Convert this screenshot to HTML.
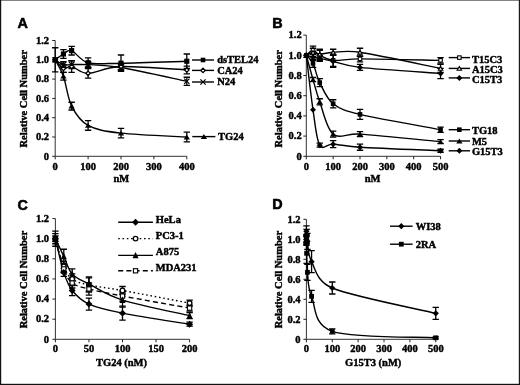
<!DOCTYPE html>
<html><head><meta charset="utf-8"><title>Figure</title>
<style>html,body{margin:0;padding:0;background:#fff;}body{width:520px;height:385px;position:relative;overflow:hidden;}</style>
</head><body>
<svg width="520" height="385" viewBox="0 0 520 385" style="position:absolute;left:0;top:0">
<rect x="0" y="0" width="520" height="385" fill="#fff"/>
<rect x="0" y="0" width="520" height="0.8" fill="#666"/>
<rect x="0" y="0" width="1.2" height="385" fill="#111"/>
<rect x="518.8" y="0" width="1.2" height="385" fill="#1a1a1a"/>
<rect x="0" y="383.8" width="520" height="1.2" fill="#111"/>
<g>
<text transform="translate(17.5,27.5) scale(1.0,1.03)" font-family='"Liberation Sans", "DejaVu Sans", sans-serif' font-weight="bold" font-size="14.4px" fill="#000" stroke="#000" stroke-width="0.55" stroke-linejoin="round">A</text>
<path d="M55.20,40.50 V156.30 H186.80" fill="none" stroke="#333" stroke-width="1"/>
<path d="M52.20,156.30 H55.20" stroke="#222" stroke-width="1"/>
<text x="49" y="159.60" text-anchor="end" font-family='"Liberation Serif", "DejaVu Serif", serif' font-weight="bold" font-size="10.5px" stroke="#000" stroke-width="0.42">0</text>
<path d="M52.20,137.00 H55.20" stroke="#222" stroke-width="1"/>
<text x="49" y="140.30" text-anchor="end" font-family='"Liberation Serif", "DejaVu Serif", serif' font-weight="bold" font-size="10.5px" stroke="#000" stroke-width="0.42">0.2</text>
<path d="M52.20,117.70 H55.20" stroke="#222" stroke-width="1"/>
<text x="49" y="121.00" text-anchor="end" font-family='"Liberation Serif", "DejaVu Serif", serif' font-weight="bold" font-size="10.5px" stroke="#000" stroke-width="0.42">0.4</text>
<path d="M52.20,98.40 H55.20" stroke="#222" stroke-width="1"/>
<text x="49" y="101.70" text-anchor="end" font-family='"Liberation Serif", "DejaVu Serif", serif' font-weight="bold" font-size="10.5px" stroke="#000" stroke-width="0.42">0.6</text>
<path d="M52.20,79.10 H55.20" stroke="#222" stroke-width="1"/>
<text x="49" y="82.40" text-anchor="end" font-family='"Liberation Serif", "DejaVu Serif", serif' font-weight="bold" font-size="10.5px" stroke="#000" stroke-width="0.42">0.8</text>
<path d="M52.20,59.80 H55.20" stroke="#222" stroke-width="1"/>
<text x="49" y="63.10" text-anchor="end" font-family='"Liberation Serif", "DejaVu Serif", serif' font-weight="bold" font-size="10.5px" stroke="#000" stroke-width="0.42">1.0</text>
<path d="M52.20,40.50 H55.20" stroke="#222" stroke-width="1"/>
<text x="49" y="43.80" text-anchor="end" font-family='"Liberation Serif", "DejaVu Serif", serif' font-weight="bold" font-size="10.5px" stroke="#000" stroke-width="0.42">1.2</text>
<path d="M55.20,156.30 V159.30" stroke="#222" stroke-width="1"/>
<text x="55.20" y="169.7" text-anchor="middle" font-family='"Liberation Serif", "DejaVu Serif", serif' font-weight="bold" font-size="10.5px" stroke="#000" stroke-width="0.42">0</text>
<path d="M88.10,156.30 V159.30" stroke="#222" stroke-width="1"/>
<text x="88.10" y="169.7" text-anchor="middle" font-family='"Liberation Serif", "DejaVu Serif", serif' font-weight="bold" font-size="10.5px" stroke="#000" stroke-width="0.42">100</text>
<path d="M121.00,156.30 V159.30" stroke="#222" stroke-width="1"/>
<text x="121.00" y="169.7" text-anchor="middle" font-family='"Liberation Serif", "DejaVu Serif", serif' font-weight="bold" font-size="10.5px" stroke="#000" stroke-width="0.42">200</text>
<path d="M153.90,156.30 V159.30" stroke="#222" stroke-width="1"/>
<text x="153.90" y="169.7" text-anchor="middle" font-family='"Liberation Serif", "DejaVu Serif", serif' font-weight="bold" font-size="10.5px" stroke="#000" stroke-width="0.42">300</text>
<path d="M186.80,156.30 V159.30" stroke="#222" stroke-width="1"/>
<text x="186.80" y="169.7" text-anchor="middle" font-family='"Liberation Serif", "DejaVu Serif", serif' font-weight="bold" font-size="10.5px" stroke="#000" stroke-width="0.42">400</text>
<text x="121.3" y="181.8" text-anchor="middle" font-family='"Liberation Serif", "DejaVu Serif", serif' font-weight="bold" font-size="10.5px" stroke="#000" stroke-width="0.42">nM</text>
<text transform="translate(26.8,98.8) rotate(-90)" text-anchor="middle" font-family='"Liberation Serif", "DejaVu Serif", serif' font-weight="bold" font-size="10.5px" stroke="#000" stroke-width="0.42">Relative Cell Number</text>
<path d="M55.20,59.80 C56.57,58.84 60.68,55.54 63.43,54.01 C66.17,52.48 67.54,49.19 71.65,50.63 C75.76,52.08 79.88,60.60 88.10,62.70 C96.32,64.79 104.55,63.42 121.00,63.18 C137.45,62.94 175.83,61.57 186.80,61.25" fill="none" stroke="#000" stroke-width="1.4"/>
<path d="M55.20,59.80 C56.57,61.25 60.68,67.36 63.43,68.49 C66.17,69.61 67.54,65.75 71.65,66.56 C75.76,67.36 79.88,73.31 88.10,73.31 C96.32,73.31 104.55,67.12 121.00,66.56 C137.45,65.99 175.83,69.37 186.80,69.93" fill="none" stroke="#000" stroke-width="1.4"/>
<path d="M55.20,59.80 C56.57,60.60 60.68,63.82 63.43,64.63 C66.17,65.43 67.54,64.63 71.65,64.63 C75.76,64.63 79.89,64.14 88.10,64.63 C96.32,65.11 104.72,64.77 121.00,67.52 C137.45,70.30 175.83,79.02 186.80,81.32" fill="none" stroke="#000" stroke-width="1.4"/>
<path d="M55.20,59.80 C56.57,62.53 60.68,68.49 63.43,76.21 C66.17,83.93 67.54,97.92 71.65,106.12 C75.76,114.32 79.88,120.92 88.10,125.42 C96.32,129.92 104.55,131.21 121.00,133.14 C137.45,135.07 175.83,136.36 186.80,137.00" fill="none" stroke="#000" stroke-width="1.4"/>
<path d="M55.20,47.74 V71.86 M52.00,47.74 H58.40 M52.00,71.86 H58.40" stroke="#000" stroke-width="1.3" fill="none"/>
<path d="M63.43,49.67 V58.35 M60.23,49.67 H66.62 M60.23,58.35 H66.62" stroke="#000" stroke-width="1.3" fill="none"/>
<path d="M71.65,46.29 V54.98 M68.45,46.29 H74.85 M68.45,54.98 H74.85" stroke="#000" stroke-width="1.3" fill="none"/>
<path d="M88.10,57.87 V67.52 M84.90,57.87 H91.30 M84.90,67.52 H91.30" stroke="#000" stroke-width="1.3" fill="none"/>
<path d="M121.00,54.98 V71.38 M117.80,54.98 H124.20 M117.80,71.38 H124.20" stroke="#000" stroke-width="1.3" fill="none"/>
<path d="M186.80,54.01 V68.49 M183.60,54.01 H190.00 M183.60,68.49 H190.00" stroke="#000" stroke-width="1.3" fill="none"/>
<path d="M63.43,64.62 V72.35 M60.23,64.62 H66.62 M60.23,72.35 H66.62" stroke="#000" stroke-width="1.3" fill="none"/>
<path d="M71.65,60.77 V72.34 M68.45,60.77 H74.85 M68.45,72.34 H74.85" stroke="#000" stroke-width="1.3" fill="none"/>
<path d="M88.10,68.49 V78.14 M84.90,68.49 H91.30 M84.90,78.14 H91.30" stroke="#000" stroke-width="1.3" fill="none"/>
<path d="M121.00,63.66 V69.45 M117.80,63.66 H124.20 M117.80,69.45 H124.20" stroke="#000" stroke-width="1.3" fill="none"/>
<path d="M186.80,66.07 V73.79 M183.60,66.07 H190.00 M183.60,73.79 H190.00" stroke="#000" stroke-width="1.3" fill="none"/>
<path d="M63.43,61.73 V67.52 M60.23,61.73 H66.62 M60.23,67.52 H66.62" stroke="#000" stroke-width="1.3" fill="none"/>
<path d="M71.65,60.77 V68.49 M68.45,60.77 H74.85 M68.45,68.49 H74.85" stroke="#000" stroke-width="1.3" fill="none"/>
<path d="M88.10,61.73 V67.52 M84.90,61.73 H91.30 M84.90,67.52 H91.30" stroke="#000" stroke-width="1.3" fill="none"/>
<path d="M121.00,64.62 V70.42 M117.80,64.62 H124.20 M117.80,70.42 H124.20" stroke="#000" stroke-width="1.3" fill="none"/>
<path d="M186.80,77.27 V85.37 M183.60,77.27 H190.00 M183.60,85.37 H190.00" stroke="#000" stroke-width="1.3" fill="none"/>
<path d="M63.43,72.35 V80.07 M60.23,72.35 H66.62 M60.23,80.07 H66.62" stroke="#000" stroke-width="1.3" fill="none"/>
<path d="M71.65,102.26 V109.98 M68.45,102.26 H74.85 M68.45,109.98 H74.85" stroke="#000" stroke-width="1.3" fill="none"/>
<path d="M88.10,120.60 V130.25 M84.90,120.60 H91.30 M84.90,130.25 H91.30" stroke="#000" stroke-width="1.3" fill="none"/>
<path d="M121.00,128.31 V137.97 M117.80,128.31 H124.20 M117.80,137.97 H124.20" stroke="#000" stroke-width="1.3" fill="none"/>
<path d="M186.80,132.18 V141.83 M183.60,132.18 H190.00 M183.60,141.83 H190.00" stroke="#000" stroke-width="1.3" fill="none"/>
<polygon points="55.20,57.30 58.33,62.18 52.08,62.18" fill="#000"/>
<polygon points="63.43,73.71 66.55,78.58 60.30,78.58" fill="#000"/>
<polygon points="71.65,103.62 74.78,108.50 68.53,108.50" fill="#000"/>
<polygon points="88.10,122.92 91.22,127.80 84.97,127.80" fill="#000"/>
<polygon points="121.00,130.64 124.12,135.52 117.88,135.52" fill="#000"/>
<polygon points="186.80,134.50 189.93,139.38 183.68,139.38" fill="#000"/>
<path d="M52.58,57.18 L57.83,62.43 M52.58,62.43 L57.83,57.18" stroke="#000" stroke-width="1.2" fill="none"/>
<path d="M60.80,62.00 L66.05,67.25 M60.80,67.25 L66.05,62.00" stroke="#000" stroke-width="1.2" fill="none"/>
<path d="M69.03,62.00 L74.28,67.25 M69.03,67.25 L74.28,62.00" stroke="#000" stroke-width="1.2" fill="none"/>
<path d="M85.47,62.00 L90.72,67.25 M85.47,67.25 L90.72,62.00" stroke="#000" stroke-width="1.2" fill="none"/>
<path d="M118.38,64.90 L123.62,70.15 M118.38,70.15 L123.62,64.90" stroke="#000" stroke-width="1.2" fill="none"/>
<path d="M184.18,78.69 L189.43,83.94 M184.18,83.94 L189.43,78.69" stroke="#000" stroke-width="1.2" fill="none"/>
<polygon points="55.20,57.60 57.40,59.80 55.20,62.00 53.00,59.80" fill="#fff" stroke="#000" stroke-width="1.3"/>
<polygon points="63.43,66.29 65.62,68.49 63.43,70.69 61.23,68.49" fill="#fff" stroke="#000" stroke-width="1.3"/>
<polygon points="71.65,64.36 73.85,66.56 71.65,68.76 69.45,66.56" fill="#fff" stroke="#000" stroke-width="1.3"/>
<polygon points="88.10,71.11 90.30,73.31 88.10,75.51 85.90,73.31" fill="#fff" stroke="#000" stroke-width="1.3"/>
<polygon points="121.00,64.36 123.20,66.56 121.00,68.76 118.80,66.56" fill="#fff" stroke="#000" stroke-width="1.3"/>
<polygon points="186.80,67.73 189.00,69.93 186.80,72.13 184.60,69.93" fill="#fff" stroke="#000" stroke-width="1.3"/>
<rect x="52.62" y="57.22" width="5.15" height="5.15" fill="#000"/>
<rect x="60.85" y="51.43" width="5.15" height="5.15" fill="#000"/>
<rect x="69.07" y="48.06" width="5.15" height="5.15" fill="#000"/>
<rect x="85.52" y="60.12" width="5.15" height="5.15" fill="#000"/>
<rect x="118.42" y="60.60" width="5.15" height="5.15" fill="#000"/>
<rect x="184.22" y="58.67" width="5.15" height="5.15" fill="#000"/>
<path d="M192,60.0 H214" stroke="#000" stroke-width="1.4"/>
<rect x="200.70" y="57.70" width="4.60" height="4.60" fill="#000"/>
<text x="217.2" y="63.20" font-family='"Liberation Serif", "DejaVu Serif", serif' font-weight="bold" font-size="10.5px" stroke="#000" stroke-width="0.42">dsTEL24</text>
<path d="M192,70.4 H214" stroke="#000" stroke-width="1.4"/>
<polygon points="203.00,68.20 205.20,70.40 203.00,72.60 200.80,70.40" fill="#fff" stroke="#000" stroke-width="1.3"/>
<text x="217.2" y="73.70" font-family='"Liberation Serif", "DejaVu Serif", serif' font-weight="bold" font-size="10.5px" stroke="#000" stroke-width="0.42">CA24</text>
<path d="M192,82 H214" stroke="#000" stroke-width="1.4"/>
<path d="M200.38,79.38 L205.62,84.62 M200.38,84.62 L205.62,79.38" stroke="#000" stroke-width="1.2" fill="none"/>
<text x="217.2" y="85.40" font-family='"Liberation Serif", "DejaVu Serif", serif' font-weight="bold" font-size="10.5px" stroke="#000" stroke-width="0.42">N24</text>
<path d="M192.3,136.6 H215.4" stroke="#000" stroke-width="1.4"/>
<polygon points="203.85,134.10 206.98,138.97 200.73,138.97" fill="#000"/>
<text x="218" y="139.90" font-family='"Liberation Serif", "DejaVu Serif", serif' font-weight="bold" font-size="10.5px" stroke="#000" stroke-width="0.42">TG24</text>
</g>
<g>
<text transform="translate(272.2,27.5) scale(1.0,1.03)" font-family='"Liberation Sans", "DejaVu Sans", sans-serif' font-weight="bold" font-size="14.4px" fill="#000" stroke="#000" stroke-width="0.55" stroke-linejoin="round">B</text>
<path d="M306.30,35.10 V156.30 H440.55" fill="none" stroke="#333" stroke-width="1"/>
<path d="M303.30,156.30 H306.30" stroke="#222" stroke-width="1"/>
<text x="301.7" y="159.60" text-anchor="end" font-family='"Liberation Serif", "DejaVu Serif", serif' font-weight="bold" font-size="10.5px" stroke="#000" stroke-width="0.42">0</text>
<path d="M303.30,136.10 H306.30" stroke="#222" stroke-width="1"/>
<text x="301.7" y="139.40" text-anchor="end" font-family='"Liberation Serif", "DejaVu Serif", serif' font-weight="bold" font-size="10.5px" stroke="#000" stroke-width="0.42">0.2</text>
<path d="M303.30,115.90 H306.30" stroke="#222" stroke-width="1"/>
<text x="301.7" y="119.20" text-anchor="end" font-family='"Liberation Serif", "DejaVu Serif", serif' font-weight="bold" font-size="10.5px" stroke="#000" stroke-width="0.42">0.4</text>
<path d="M303.30,95.70 H306.30" stroke="#222" stroke-width="1"/>
<text x="301.7" y="99.00" text-anchor="end" font-family='"Liberation Serif", "DejaVu Serif", serif' font-weight="bold" font-size="10.5px" stroke="#000" stroke-width="0.42">0.6</text>
<path d="M303.30,75.50 H306.30" stroke="#222" stroke-width="1"/>
<text x="301.7" y="78.80" text-anchor="end" font-family='"Liberation Serif", "DejaVu Serif", serif' font-weight="bold" font-size="10.5px" stroke="#000" stroke-width="0.42">0.8</text>
<path d="M303.30,55.30 H306.30" stroke="#222" stroke-width="1"/>
<text x="301.7" y="58.60" text-anchor="end" font-family='"Liberation Serif", "DejaVu Serif", serif' font-weight="bold" font-size="10.5px" stroke="#000" stroke-width="0.42">1.0</text>
<path d="M303.30,35.10 H306.30" stroke="#222" stroke-width="1"/>
<text x="301.7" y="38.40" text-anchor="end" font-family='"Liberation Serif", "DejaVu Serif", serif' font-weight="bold" font-size="10.5px" stroke="#000" stroke-width="0.42">1.2</text>
<path d="M306.30,156.30 V159.30" stroke="#222" stroke-width="1"/>
<text x="306.30" y="169.7" text-anchor="middle" font-family='"Liberation Serif", "DejaVu Serif", serif' font-weight="bold" font-size="10.5px" stroke="#000" stroke-width="0.42">0</text>
<path d="M333.15,156.30 V159.30" stroke="#222" stroke-width="1"/>
<text x="333.15" y="169.7" text-anchor="middle" font-family='"Liberation Serif", "DejaVu Serif", serif' font-weight="bold" font-size="10.5px" stroke="#000" stroke-width="0.42">100</text>
<path d="M360.00,156.30 V159.30" stroke="#222" stroke-width="1"/>
<text x="360.00" y="169.7" text-anchor="middle" font-family='"Liberation Serif", "DejaVu Serif", serif' font-weight="bold" font-size="10.5px" stroke="#000" stroke-width="0.42">200</text>
<path d="M386.85,156.30 V159.30" stroke="#222" stroke-width="1"/>
<text x="386.85" y="169.7" text-anchor="middle" font-family='"Liberation Serif", "DejaVu Serif", serif' font-weight="bold" font-size="10.5px" stroke="#000" stroke-width="0.42">300</text>
<path d="M413.70,156.30 V159.30" stroke="#222" stroke-width="1"/>
<text x="413.70" y="169.7" text-anchor="middle" font-family='"Liberation Serif", "DejaVu Serif", serif' font-weight="bold" font-size="10.5px" stroke="#000" stroke-width="0.42">400</text>
<path d="M440.55,156.30 V159.30" stroke="#222" stroke-width="1"/>
<text x="440.55" y="169.7" text-anchor="middle" font-family='"Liberation Serif", "DejaVu Serif", serif' font-weight="bold" font-size="10.5px" stroke="#000" stroke-width="0.42">500</text>
<text x="372.5" y="181.8" text-anchor="middle" font-family='"Liberation Serif", "DejaVu Serif", serif' font-weight="bold" font-size="10.5px" stroke="#000" stroke-width="0.42">nM</text>
<text transform="translate(281.5,98.8) rotate(-90)" text-anchor="middle" font-family='"Liberation Serif", "DejaVu Serif", serif' font-weight="bold" font-size="10.5px" stroke="#000" stroke-width="0.42">Relative Cell Number</text>
<path d="M306.30,55.30 C307.42,54.46 310.77,50.25 313.01,50.25 C315.25,50.25 316.37,53.62 319.73,55.30 C323.08,56.98 326.44,59.76 333.15,60.35 C339.86,60.94 346.55,58.84 360.00,58.84 C377.90,58.84 427.12,60.10 440.55,60.35" fill="none" stroke="#000" stroke-width="1.4"/>
<path d="M306.30,55.30 C307.42,54.80 310.77,52.44 313.01,52.27 C315.25,52.10 316.37,54.29 319.73,54.29 C323.08,54.29 326.44,52.61 333.15,52.27 C339.86,51.93 346.72,50.27 360.00,52.27 C377.90,54.96 427.12,65.74 440.55,68.43" fill="none" stroke="#000" stroke-width="1.4"/>
<path d="M306.30,55.30 C307.42,55.64 310.77,56.82 313.01,57.32 C315.25,57.83 316.40,57.66 319.73,58.33 C323.08,59.00 326.44,59.85 333.15,61.36 C339.86,62.88 346.32,65.88 360.00,67.42 C377.90,69.44 427.12,72.47 440.55,73.48" fill="none" stroke="#000" stroke-width="1.4"/>
<path d="M306.30,55.30 C307.42,59.34 310.77,71.80 313.01,79.54 C315.25,87.28 316.37,92.67 319.73,101.76 C323.08,110.85 326.44,128.69 333.15,134.08 C339.86,139.47 346.61,133.14 360.00,134.08 C377.90,135.34 427.12,140.39 440.55,141.66" fill="none" stroke="#000" stroke-width="1.4"/>
<path d="M306.30,55.30 C307.42,64.39 310.77,94.86 313.01,109.84 C315.25,124.82 316.37,139.47 319.73,145.19 C323.08,150.91 326.44,143.84 333.15,144.18 C339.86,144.52 346.51,146.39 360.00,147.21 C377.90,148.30 427.12,150.16 440.55,150.75" fill="none" stroke="#000" stroke-width="1.4"/>
<path d="M306.30,55.30 C307.42,56.65 310.77,58.84 313.01,63.38 C315.25,67.93 316.37,75.84 319.73,82.57 C323.08,89.30 326.44,98.48 333.15,103.78 C339.86,109.08 345.97,110.99 360.00,114.39 C377.90,118.71 427.12,127.18 440.55,129.74" fill="none" stroke="#000" stroke-width="1.4"/>
<path d="M313.01,46.21 V54.29 M309.81,46.21 H316.21 M309.81,54.29 H316.21" stroke="#000" stroke-width="1.3" fill="none"/>
<path d="M319.73,50.25 V60.35 M316.53,50.25 H322.93 M316.53,60.35 H322.93" stroke="#000" stroke-width="1.3" fill="none"/>
<path d="M333.15,54.29 V66.41 M329.95,54.29 H336.35 M329.95,66.41 H336.35" stroke="#000" stroke-width="1.3" fill="none"/>
<path d="M360.00,55.81 V61.87 M356.80,55.81 H363.20 M356.80,61.87 H363.20" stroke="#000" stroke-width="1.3" fill="none"/>
<path d="M440.55,57.62 V63.08 M437.35,57.62 H443.75 M437.35,63.08 H443.75" stroke="#000" stroke-width="1.3" fill="none"/>
<path d="M313.01,48.23 V56.31 M309.81,48.23 H316.21 M309.81,56.31 H316.21" stroke="#000" stroke-width="1.3" fill="none"/>
<path d="M319.73,49.24 V59.34 M316.53,49.24 H322.93 M316.53,59.34 H322.93" stroke="#000" stroke-width="1.3" fill="none"/>
<path d="M333.15,49.24 V55.30 M329.95,49.24 H336.35 M329.95,55.30 H336.35" stroke="#000" stroke-width="1.3" fill="none"/>
<path d="M360.00,48.23 V56.31 M356.80,48.23 H363.20 M356.80,56.31 H363.20" stroke="#000" stroke-width="1.3" fill="none"/>
<path d="M440.55,64.39 V72.47 M437.35,64.39 H443.75 M437.35,72.47 H443.75" stroke="#000" stroke-width="1.3" fill="none"/>
<path d="M313.01,54.29 V60.35 M309.81,54.29 H316.21 M309.81,60.35 H316.21" stroke="#000" stroke-width="1.3" fill="none"/>
<path d="M319.73,55.30 V61.36 M316.53,55.30 H322.93 M316.53,61.36 H322.93" stroke="#000" stroke-width="1.3" fill="none"/>
<path d="M333.15,55.30 V67.42 M329.95,55.30 H336.35 M329.95,67.42 H336.35" stroke="#000" stroke-width="1.3" fill="none"/>
<path d="M360.00,64.39 V70.45 M356.80,64.39 H363.20 M356.80,70.45 H363.20" stroke="#000" stroke-width="1.3" fill="none"/>
<path d="M440.55,68.43 V78.53 M437.35,68.43 H443.75 M437.35,78.53 H443.75" stroke="#000" stroke-width="1.3" fill="none"/>
<path d="M313.01,77.52 V81.56 M309.81,77.52 H316.21 M309.81,81.56 H316.21" stroke="#000" stroke-width="1.3" fill="none"/>
<path d="M319.73,98.73 V104.79 M316.53,98.73 H322.93 M316.53,104.79 H322.93" stroke="#000" stroke-width="1.3" fill="none"/>
<path d="M333.15,131.05 V137.11 M329.95,131.05 H336.35 M329.95,137.11 H336.35" stroke="#000" stroke-width="1.3" fill="none"/>
<path d="M360.00,131.56 V136.61 M356.80,131.56 H363.20 M356.80,136.61 H363.20" stroke="#000" stroke-width="1.3" fill="none"/>
<path d="M440.55,139.64 V143.68 M437.35,139.64 H443.75 M437.35,143.68 H443.75" stroke="#000" stroke-width="1.3" fill="none"/>
<path d="M319.73,143.17 V147.21 M316.53,143.17 H322.93 M316.53,147.21 H322.93" stroke="#000" stroke-width="1.3" fill="none"/>
<path d="M333.15,140.65 V147.72 M329.95,140.65 H336.35 M329.95,147.72 H336.35" stroke="#000" stroke-width="1.3" fill="none"/>
<path d="M360.00,144.18 V150.24 M356.80,144.18 H363.20 M356.80,150.24 H363.20" stroke="#000" stroke-width="1.3" fill="none"/>
<path d="M440.55,149.23 V152.26 M437.35,149.23 H443.75 M437.35,152.26 H443.75" stroke="#000" stroke-width="1.3" fill="none"/>
<path d="M313.01,59.34 V67.42 M309.81,59.34 H316.21 M309.81,67.42 H316.21" stroke="#000" stroke-width="1.3" fill="none"/>
<path d="M319.73,78.53 V86.61 M316.53,78.53 H322.93 M316.53,86.61 H322.93" stroke="#000" stroke-width="1.3" fill="none"/>
<path d="M333.15,99.74 V107.82 M329.95,99.74 H336.35 M329.95,107.82 H336.35" stroke="#000" stroke-width="1.3" fill="none"/>
<path d="M360.00,109.34 V119.44 M356.80,109.34 H363.20 M356.80,119.44 H363.20" stroke="#000" stroke-width="1.3" fill="none"/>
<path d="M440.55,127.11 V132.36 M437.35,127.11 H443.75 M437.35,132.36 H443.75" stroke="#000" stroke-width="1.3" fill="none"/>
<rect x="304.55" y="53.55" width="3.50" height="3.50" fill="#fff" stroke="#000" stroke-width="1.1"/>
<rect x="311.26" y="48.50" width="3.50" height="3.50" fill="#fff" stroke="#000" stroke-width="1.1"/>
<rect x="317.98" y="53.55" width="3.50" height="3.50" fill="#fff" stroke="#000" stroke-width="1.1"/>
<rect x="331.40" y="58.60" width="3.50" height="3.50" fill="#fff" stroke="#000" stroke-width="1.1"/>
<rect x="358.25" y="57.09" width="3.50" height="3.50" fill="#fff" stroke="#000" stroke-width="1.1"/>
<rect x="438.80" y="58.60" width="3.50" height="3.50" fill="#fff" stroke="#000" stroke-width="1.1"/>
<polygon points="306.30,53.50 308.53,57.18 304.07,57.18" fill="#fff" stroke="#000" stroke-width="1.1"/>
<polygon points="313.01,50.47 315.24,54.15 310.79,54.15" fill="#fff" stroke="#000" stroke-width="1.1"/>
<polygon points="319.73,52.49 321.95,56.17 317.50,56.17" fill="#fff" stroke="#000" stroke-width="1.1"/>
<polygon points="333.15,50.47 335.38,54.15 330.93,54.15" fill="#fff" stroke="#000" stroke-width="1.1"/>
<polygon points="360.00,50.47 362.23,54.15 357.77,54.15" fill="#fff" stroke="#000" stroke-width="1.1"/>
<polygon points="440.55,66.63 442.78,70.31 438.32,70.31" fill="#fff" stroke="#000" stroke-width="1.1"/>
<polygon points="306.30,52.30 309.30,55.30 306.30,58.30 303.30,55.30" fill="#000"/>
<polygon points="313.01,54.32 316.01,57.32 313.01,60.32 310.01,57.32" fill="#000"/>
<polygon points="319.73,55.33 322.73,58.33 319.73,61.33 316.73,58.33" fill="#000"/>
<polygon points="333.15,58.36 336.15,61.36 333.15,64.36 330.15,61.36" fill="#000"/>
<polygon points="360.00,64.42 363.00,67.42 360.00,70.42 357.00,67.42" fill="#000"/>
<polygon points="440.55,70.48 443.55,73.48 440.55,76.48 437.55,73.48" fill="#000"/>
<polygon points="306.30,52.80 309.43,57.68 303.18,57.68" fill="#000"/>
<polygon points="313.01,77.04 316.14,81.92 309.89,81.92" fill="#000"/>
<polygon points="319.73,99.26 322.85,104.14 316.60,104.14" fill="#000"/>
<polygon points="333.15,131.58 336.28,136.46 330.03,136.46" fill="#000"/>
<polygon points="360.00,131.58 363.12,136.46 356.88,136.46" fill="#000"/>
<polygon points="440.55,139.16 443.68,144.03 437.43,144.03" fill="#000"/>
<polygon points="306.30,52.30 309.30,55.30 306.30,58.30 303.30,55.30" fill="#000"/>
<polygon points="313.01,106.84 316.01,109.84 313.01,112.84 310.01,109.84" fill="#000"/>
<polygon points="319.73,142.19 322.73,145.19 319.73,148.19 316.73,145.19" fill="#000"/>
<polygon points="333.15,141.18 336.15,144.18 333.15,147.18 330.15,144.18" fill="#000"/>
<polygon points="360.00,144.21 363.00,147.21 360.00,150.21 357.00,147.21" fill="#000"/>
<polygon points="440.55,147.75 443.55,150.75 440.55,153.75 437.55,150.75" fill="#000"/>
<rect x="304.00" y="53.00" width="4.60" height="4.60" fill="#000"/>
<rect x="310.71" y="61.08" width="4.60" height="4.60" fill="#000"/>
<rect x="317.43" y="80.27" width="4.60" height="4.60" fill="#000"/>
<rect x="330.85" y="101.48" width="4.60" height="4.60" fill="#000"/>
<rect x="357.70" y="112.09" width="4.60" height="4.60" fill="#000"/>
<rect x="438.25" y="127.44" width="4.60" height="4.60" fill="#000"/>
<path d="M448.7,57.6 H470" stroke="#000" stroke-width="1.4"/>
<rect x="457.60" y="55.85" width="3.50" height="3.50" fill="#fff" stroke="#000" stroke-width="1.1"/>
<text x="471.9" y="62.80" font-family='"Liberation Serif", "DejaVu Serif", serif' font-weight="bold" font-size="10.5px" stroke="#000" stroke-width="0.42">T15C3</text>
<path d="M448.7,68.4 H470" stroke="#000" stroke-width="1.4"/>
<polygon points="459.35,66.60 461.58,70.28 457.12,70.28" fill="#fff" stroke="#000" stroke-width="1.1"/>
<text x="471.9" y="73.00" font-family='"Liberation Serif", "DejaVu Serif", serif' font-weight="bold" font-size="10.5px" stroke="#000" stroke-width="0.42">A15C3</text>
<path d="M448.7,77.9 H470" stroke="#000" stroke-width="1.4"/>
<polygon points="459.35,74.90 462.35,77.90 459.35,80.90 456.35,77.90" fill="#000"/>
<text x="471.9" y="82.50" font-family='"Liberation Serif", "DejaVu Serif", serif' font-weight="bold" font-size="10.5px" stroke="#000" stroke-width="0.42">C15T3</text>
<path d="M448.7,129.7 H470" stroke="#000" stroke-width="1.4"/>
<rect x="457.05" y="127.40" width="4.60" height="4.60" fill="#000"/>
<text x="471.9" y="134.40" font-family='"Liberation Serif", "DejaVu Serif", serif' font-weight="bold" font-size="10.5px" stroke="#000" stroke-width="0.42">TG18</text>
<path d="M448.7,141 H470" stroke="#000" stroke-width="1.4"/>
<polygon points="459.35,138.50 462.48,143.38 456.23,143.38" fill="#000"/>
<text x="471.9" y="144.80" font-family='"Liberation Serif", "DejaVu Serif", serif' font-weight="bold" font-size="10.5px" stroke="#000" stroke-width="0.42">M5</text>
<path d="M448.7,150.8 H470" stroke="#000" stroke-width="1.4"/>
<polygon points="459.35,147.80 462.35,150.80 459.35,153.80 456.35,150.80" fill="#000"/>
<text x="471.9" y="155.10" font-family='"Liberation Serif", "DejaVu Serif", serif' font-weight="bold" font-size="10.5px" stroke="#000" stroke-width="0.42">G15T3</text>
</g>
<g>
<text transform="translate(17.4,209.5) scale(1.0,1.03)" font-family='"Liberation Sans", "DejaVu Sans", sans-serif' font-weight="bold" font-size="14.4px" fill="#000" stroke="#000" stroke-width="0.55" stroke-linejoin="round">C</text>
<path d="M55.40,218.58 V339.30 H189.60" fill="none" stroke="#333" stroke-width="1"/>
<path d="M52.40,339.30 H55.40" stroke="#222" stroke-width="1"/>
<text x="49" y="342.60" text-anchor="end" font-family='"Liberation Serif", "DejaVu Serif", serif' font-weight="bold" font-size="10.5px" stroke="#000" stroke-width="0.42">0</text>
<path d="M52.40,319.18 H55.40" stroke="#222" stroke-width="1"/>
<text x="49" y="322.48" text-anchor="end" font-family='"Liberation Serif", "DejaVu Serif", serif' font-weight="bold" font-size="10.5px" stroke="#000" stroke-width="0.42">0.2</text>
<path d="M52.40,299.06 H55.40" stroke="#222" stroke-width="1"/>
<text x="49" y="302.36" text-anchor="end" font-family='"Liberation Serif", "DejaVu Serif", serif' font-weight="bold" font-size="10.5px" stroke="#000" stroke-width="0.42">0.4</text>
<path d="M52.40,278.94 H55.40" stroke="#222" stroke-width="1"/>
<text x="49" y="282.24" text-anchor="end" font-family='"Liberation Serif", "DejaVu Serif", serif' font-weight="bold" font-size="10.5px" stroke="#000" stroke-width="0.42">0.6</text>
<path d="M52.40,258.82 H55.40" stroke="#222" stroke-width="1"/>
<text x="49" y="262.12" text-anchor="end" font-family='"Liberation Serif", "DejaVu Serif", serif' font-weight="bold" font-size="10.5px" stroke="#000" stroke-width="0.42">0.8</text>
<path d="M52.40,238.70 H55.40" stroke="#222" stroke-width="1"/>
<text x="49" y="242.00" text-anchor="end" font-family='"Liberation Serif", "DejaVu Serif", serif' font-weight="bold" font-size="10.5px" stroke="#000" stroke-width="0.42">1.0</text>
<path d="M52.40,218.58 H55.40" stroke="#222" stroke-width="1"/>
<text x="49" y="221.88" text-anchor="end" font-family='"Liberation Serif", "DejaVu Serif", serif' font-weight="bold" font-size="10.5px" stroke="#000" stroke-width="0.42">1.2</text>
<path d="M55.40,339.30 V342.30" stroke="#222" stroke-width="1"/>
<text x="55.40" y="352.4" text-anchor="middle" font-family='"Liberation Serif", "DejaVu Serif", serif' font-weight="bold" font-size="10.5px" stroke="#000" stroke-width="0.42">0</text>
<path d="M88.95,339.30 V342.30" stroke="#222" stroke-width="1"/>
<text x="88.95" y="352.4" text-anchor="middle" font-family='"Liberation Serif", "DejaVu Serif", serif' font-weight="bold" font-size="10.5px" stroke="#000" stroke-width="0.42">50</text>
<path d="M122.50,339.30 V342.30" stroke="#222" stroke-width="1"/>
<text x="122.50" y="352.4" text-anchor="middle" font-family='"Liberation Serif", "DejaVu Serif", serif' font-weight="bold" font-size="10.5px" stroke="#000" stroke-width="0.42">100</text>
<path d="M156.05,339.30 V342.30" stroke="#222" stroke-width="1"/>
<text x="156.05" y="352.4" text-anchor="middle" font-family='"Liberation Serif", "DejaVu Serif", serif' font-weight="bold" font-size="10.5px" stroke="#000" stroke-width="0.42">150</text>
<path d="M189.60,339.30 V342.30" stroke="#222" stroke-width="1"/>
<text x="189.60" y="352.4" text-anchor="middle" font-family='"Liberation Serif", "DejaVu Serif", serif' font-weight="bold" font-size="10.5px" stroke="#000" stroke-width="0.42">200</text>
<text x="121.5" y="365.6" text-anchor="middle" font-family='"Liberation Serif", "DejaVu Serif", serif' font-weight="bold" font-size="10.5px" stroke="#000" stroke-width="0.42">TG24 (nM)</text>
<text transform="translate(26.6,279.6) rotate(-90)" text-anchor="middle" font-family='"Liberation Serif", "DejaVu Serif", serif' font-weight="bold" font-size="10.5px" stroke="#000" stroke-width="0.42">Relative Cell Number</text>
<path d="M55.40,238.70 C56.80,243.31 60.99,259.66 63.79,266.37 C66.58,273.07 67.98,275.84 72.17,278.94 C76.37,282.04 80.56,283.05 88.95,284.98 C97.34,286.90 105.77,287.50 122.50,290.51 C139.28,293.53 178.42,300.99 189.60,303.08" fill="none" stroke="#000" stroke-width="1.4" stroke-dasharray="1.6,2.7"/>
<path d="M55.40,238.70 C56.80,243.73 60.99,261.50 63.79,268.88 C66.58,276.26 67.98,279.61 72.17,282.96 C76.37,286.32 80.56,286.82 88.95,289.00 C97.34,291.18 105.72,292.86 122.50,296.04 C139.28,299.23 178.42,306.10 189.60,308.11" fill="none" stroke="#000" stroke-width="1.4" stroke-dasharray="5,3.2"/>
<path d="M55.40,238.70 C56.80,241.63 60.99,250.44 63.79,256.31 C66.58,262.17 67.98,269.30 72.17,273.91 C76.37,278.52 80.56,279.61 88.95,283.97 C97.34,288.33 105.72,294.78 122.50,300.07 C139.28,305.35 178.42,313.06 189.60,315.66" fill="none" stroke="#000" stroke-width="1.4"/>
<path d="M55.40,238.70 C56.80,244.32 60.99,263.77 63.79,272.40 C66.58,281.04 67.98,285.23 72.17,290.51 C76.37,295.79 80.56,300.32 88.95,304.09 C97.34,307.86 105.72,309.79 122.50,313.14 C139.28,316.50 178.42,322.37 189.60,324.21" fill="none" stroke="#000" stroke-width="1.4"/>
<path d="M55.40,233.67 V243.73 M52.20,233.67 H58.60 M52.20,243.73 H58.60" stroke="#000" stroke-width="1.3" fill="none"/>
<path d="M63.79,261.34 V271.40 M60.59,261.34 H66.99 M60.59,271.40 H66.99" stroke="#000" stroke-width="1.3" fill="none"/>
<path d="M72.17,273.91 V283.97 M68.97,273.91 H75.38 M68.97,283.97 H75.38" stroke="#000" stroke-width="1.3" fill="none"/>
<path d="M88.95,277.93 V292.02 M85.75,277.93 H92.15 M85.75,292.02 H92.15" stroke="#000" stroke-width="1.3" fill="none"/>
<path d="M122.50,286.49 V294.53 M119.30,286.49 H125.70 M119.30,294.53 H125.70" stroke="#000" stroke-width="1.3" fill="none"/>
<path d="M189.60,300.07 V306.10 M186.40,300.07 H192.80 M186.40,306.10 H192.80" stroke="#000" stroke-width="1.3" fill="none"/>
<path d="M63.79,264.86 V272.90 M60.59,264.86 H66.99 M60.59,272.90 H66.99" stroke="#000" stroke-width="1.3" fill="none"/>
<path d="M72.17,277.93 V287.99 M68.97,277.93 H75.38 M68.97,287.99 H75.38" stroke="#000" stroke-width="1.3" fill="none"/>
<path d="M88.95,282.96 V295.04 M85.75,282.96 H92.15 M85.75,295.04 H92.15" stroke="#000" stroke-width="1.3" fill="none"/>
<path d="M122.50,291.01 V301.07 M119.30,291.01 H125.70 M119.30,301.07 H125.70" stroke="#000" stroke-width="1.3" fill="none"/>
<path d="M189.60,305.10 V311.13 M186.40,305.10 H192.80 M186.40,311.13 H192.80" stroke="#000" stroke-width="1.3" fill="none"/>
<path d="M55.40,235.88 V241.52 M52.20,235.88 H58.60 M52.20,241.52 H58.60" stroke="#000" stroke-width="1.3" fill="none"/>
<path d="M63.79,249.26 V263.35 M60.59,249.26 H66.99 M60.59,263.35 H66.99" stroke="#000" stroke-width="1.3" fill="none"/>
<path d="M72.17,268.88 V278.94 M68.97,268.88 H75.38 M68.97,278.94 H75.38" stroke="#000" stroke-width="1.3" fill="none"/>
<path d="M88.95,276.93 V291.01 M85.75,276.93 H92.15 M85.75,291.01 H92.15" stroke="#000" stroke-width="1.3" fill="none"/>
<path d="M122.50,293.02 V307.11 M119.30,293.02 H125.70 M119.30,307.11 H125.70" stroke="#000" stroke-width="1.3" fill="none"/>
<path d="M189.60,312.64 V318.68 M186.40,312.64 H192.80 M186.40,318.68 H192.80" stroke="#000" stroke-width="1.3" fill="none"/>
<path d="M55.40,231.16 V246.25 M52.20,231.16 H58.60 M52.20,246.25 H58.60" stroke="#000" stroke-width="1.3" fill="none"/>
<path d="M63.79,268.38 V276.43 M60.59,268.38 H66.99 M60.59,276.43 H66.99" stroke="#000" stroke-width="1.3" fill="none"/>
<path d="M72.17,285.48 V295.54 M68.97,285.48 H75.38 M68.97,295.54 H75.38" stroke="#000" stroke-width="1.3" fill="none"/>
<path d="M88.95,298.05 V310.13 M85.75,298.05 H92.15 M85.75,310.13 H92.15" stroke="#000" stroke-width="1.3" fill="none"/>
<path d="M122.50,306.10 V320.19 M119.30,306.10 H125.70 M119.30,320.19 H125.70" stroke="#000" stroke-width="1.3" fill="none"/>
<path d="M189.60,322.20 V326.22 M186.40,322.20 H192.80 M186.40,326.22 H192.80" stroke="#000" stroke-width="1.3" fill="none"/>
<circle cx="55.40" cy="238.70" r="2.32" fill="#fff" stroke="#000" stroke-width="1.3"/>
<circle cx="63.79" cy="266.37" r="2.32" fill="#fff" stroke="#000" stroke-width="1.3"/>
<circle cx="72.17" cy="278.94" r="2.32" fill="#fff" stroke="#000" stroke-width="1.3"/>
<circle cx="88.95" cy="284.98" r="2.32" fill="#fff" stroke="#000" stroke-width="1.3"/>
<circle cx="122.50" cy="290.51" r="2.32" fill="#fff" stroke="#000" stroke-width="1.3"/>
<circle cx="189.60" cy="303.08" r="2.32" fill="#fff" stroke="#000" stroke-width="1.3"/>
<rect x="53.28" y="236.58" width="4.24" height="4.24" fill="#fff" stroke="#000" stroke-width="1.1"/>
<rect x="61.67" y="266.76" width="4.24" height="4.24" fill="#fff" stroke="#000" stroke-width="1.1"/>
<rect x="70.06" y="280.85" width="4.24" height="4.24" fill="#fff" stroke="#000" stroke-width="1.1"/>
<rect x="86.83" y="286.88" width="4.24" height="4.24" fill="#fff" stroke="#000" stroke-width="1.1"/>
<rect x="120.38" y="293.92" width="4.24" height="4.24" fill="#fff" stroke="#000" stroke-width="1.1"/>
<rect x="187.48" y="306.00" width="4.24" height="4.24" fill="#fff" stroke="#000" stroke-width="1.1"/>
<polygon points="55.40,235.22 58.45,241.60 52.35,241.60" fill="#000"/>
<polygon points="63.79,252.83 66.83,259.20 60.74,259.20" fill="#000"/>
<polygon points="72.17,270.43 75.22,276.81 69.13,276.81" fill="#000"/>
<polygon points="88.95,280.49 92.00,286.87 85.91,286.87" fill="#000"/>
<polygon points="122.50,296.59 125.55,302.97 119.45,302.97" fill="#000"/>
<polygon points="189.60,312.18 192.65,318.56 186.56,318.56" fill="#000"/>
<polygon points="55.40,235.22 58.88,238.70 55.40,242.18 51.92,238.70" fill="#000"/>
<polygon points="63.79,268.92 67.27,272.40 63.79,275.88 60.31,272.40" fill="#000"/>
<polygon points="72.17,287.03 75.66,290.51 72.17,293.99 68.69,290.51" fill="#000"/>
<polygon points="88.95,300.61 92.43,304.09 88.95,307.57 85.47,304.09" fill="#000"/>
<polygon points="122.50,309.66 125.98,313.14 122.50,316.62 119.02,313.14" fill="#000"/>
<polygon points="189.60,320.73 193.08,324.21 189.60,327.69 186.12,324.21" fill="#000"/>
<path d="M118.2,222.2 H152.9" stroke="#000" stroke-width="1.4"/>
<polygon points="135.55,218.72 139.03,222.20 135.55,225.68 132.07,222.20" fill="#000"/>
<text x="155.8" y="222.60" font-family='"Liberation Serif", "DejaVu Serif", serif' font-weight="bold" font-size="10.5px" stroke="#000" stroke-width="0.42">HeLa</text>
<path d="M118.2,238.6 H152.9" stroke="#000" stroke-width="1.4" stroke-dasharray="1.6,2.7"/>
<circle cx="135.55" cy="238.60" r="2.32" fill="#fff" stroke="#000" stroke-width="1.3"/>
<text x="155.8" y="238.80" font-family='"Liberation Serif", "DejaVu Serif", serif' font-weight="bold" font-size="10.5px" stroke="#000" stroke-width="0.42">PC3-1</text>
<path d="M118.2,255.4 H152.9" stroke="#000" stroke-width="1.4"/>
<polygon points="135.55,251.92 138.59,258.30 132.51,258.30" fill="#000"/>
<text x="155.8" y="255.40" font-family='"Liberation Serif", "DejaVu Serif", serif' font-weight="bold" font-size="10.5px" stroke="#000" stroke-width="0.42">A875</text>
<path d="M118.2,270.8 H152.9" stroke="#000" stroke-width="1.4" stroke-dasharray="5,3.2"/>
<rect x="133.43" y="268.68" width="4.24" height="4.24" fill="#fff" stroke="#000" stroke-width="1.1"/>
<text x="155.8" y="270.80" font-family='"Liberation Serif", "DejaVu Serif", serif' font-weight="bold" font-size="10.5px" stroke="#000" stroke-width="0.42">MDA231</text>
</g>
<g>
<text transform="translate(272.2,209.3) scale(1.0,1.03)" font-family='"Liberation Sans", "DejaVu Sans", sans-serif' font-weight="bold" font-size="14.4px" fill="#000" stroke="#000" stroke-width="0.55" stroke-linejoin="round">D</text>
<path d="M306.40,219.30 V339.30 H435.75" fill="none" stroke="#333" stroke-width="1"/>
<path d="M303.40,339.30 H306.40" stroke="#222" stroke-width="1"/>
<text x="300.6" y="342.60" text-anchor="end" font-family='"Liberation Serif", "DejaVu Serif", serif' font-weight="bold" font-size="10.5px" stroke="#000" stroke-width="0.42">0</text>
<path d="M303.40,319.30 H306.40" stroke="#222" stroke-width="1"/>
<text x="300.6" y="322.60" text-anchor="end" font-family='"Liberation Serif", "DejaVu Serif", serif' font-weight="bold" font-size="10.5px" stroke="#000" stroke-width="0.42">0.2</text>
<path d="M303.40,299.30 H306.40" stroke="#222" stroke-width="1"/>
<text x="300.6" y="302.60" text-anchor="end" font-family='"Liberation Serif", "DejaVu Serif", serif' font-weight="bold" font-size="10.5px" stroke="#000" stroke-width="0.42">0.4</text>
<path d="M303.40,279.30 H306.40" stroke="#222" stroke-width="1"/>
<text x="300.6" y="282.60" text-anchor="end" font-family='"Liberation Serif", "DejaVu Serif", serif' font-weight="bold" font-size="10.5px" stroke="#000" stroke-width="0.42">0.6</text>
<path d="M303.40,259.30 H306.40" stroke="#222" stroke-width="1"/>
<text x="300.6" y="262.60" text-anchor="end" font-family='"Liberation Serif", "DejaVu Serif", serif' font-weight="bold" font-size="10.5px" stroke="#000" stroke-width="0.42">0.8</text>
<path d="M303.40,239.30 H306.40" stroke="#222" stroke-width="1"/>
<text x="300.6" y="242.60" text-anchor="end" font-family='"Liberation Serif", "DejaVu Serif", serif' font-weight="bold" font-size="10.5px" stroke="#000" stroke-width="0.42">1.0</text>
<path d="M303.40,219.30 H306.40" stroke="#222" stroke-width="1"/>
<text x="300.6" y="222.60" text-anchor="end" font-family='"Liberation Serif", "DejaVu Serif", serif' font-weight="bold" font-size="10.5px" stroke="#000" stroke-width="0.42">1.2</text>
<path d="M306.40,339.30 V342.30" stroke="#222" stroke-width="1"/>
<text x="306.40" y="352.4" text-anchor="middle" font-family='"Liberation Serif", "DejaVu Serif", serif' font-weight="bold" font-size="10.5px" stroke="#000" stroke-width="0.42">0</text>
<path d="M332.27,339.30 V342.30" stroke="#222" stroke-width="1"/>
<text x="332.27" y="352.4" text-anchor="middle" font-family='"Liberation Serif", "DejaVu Serif", serif' font-weight="bold" font-size="10.5px" stroke="#000" stroke-width="0.42">100</text>
<path d="M358.14,339.30 V342.30" stroke="#222" stroke-width="1"/>
<text x="358.14" y="352.4" text-anchor="middle" font-family='"Liberation Serif", "DejaVu Serif", serif' font-weight="bold" font-size="10.5px" stroke="#000" stroke-width="0.42">200</text>
<path d="M384.01,339.30 V342.30" stroke="#222" stroke-width="1"/>
<text x="384.01" y="352.4" text-anchor="middle" font-family='"Liberation Serif", "DejaVu Serif", serif' font-weight="bold" font-size="10.5px" stroke="#000" stroke-width="0.42">300</text>
<path d="M409.88,339.30 V342.30" stroke="#222" stroke-width="1"/>
<text x="409.88" y="352.4" text-anchor="middle" font-family='"Liberation Serif", "DejaVu Serif", serif' font-weight="bold" font-size="10.5px" stroke="#000" stroke-width="0.42">400</text>
<path d="M435.75,339.30 V342.30" stroke="#222" stroke-width="1"/>
<text x="435.75" y="352.4" text-anchor="middle" font-family='"Liberation Serif", "DejaVu Serif", serif' font-weight="bold" font-size="10.5px" stroke="#000" stroke-width="0.42">500</text>
<text x="373.2" y="365.6" text-anchor="middle" font-family='"Liberation Serif", "DejaVu Serif", serif' font-weight="bold" font-size="10.5px" stroke="#000" stroke-width="0.42">G15T3 (nM)</text>
<text transform="translate(281.7,279.6) rotate(-90)" text-anchor="middle" font-family='"Liberation Serif", "DejaVu Serif", serif' font-weight="bold" font-size="10.5px" stroke="#000" stroke-width="0.42">Relative Cell Number</text>
<path d="M306.40,239.30 C306.41,237.97 306.41,231.97 306.44,231.30 C306.48,230.63 306.44,233.63 306.61,235.30 C306.77,236.97 306.87,238.32 307.43,241.30 C308.26,245.70 307.43,253.92 311.57,261.70 C315.71,269.48 316.82,281.58 332.27,288.00 C352.97,296.60 418.50,309.08 435.75,313.30" fill="none" stroke="#000" stroke-width="1.4"/>
<path d="M306.40,239.30 C306.41,239.47 306.43,239.80 306.44,240.30 C306.48,242.63 306.44,247.97 306.61,253.30 C306.77,258.63 306.61,265.13 307.43,272.30 C308.26,279.47 307.43,286.47 311.57,296.30 C315.71,306.13 312.99,324.86 332.27,331.30 C352.97,338.22 418.50,336.72 435.75,337.80" fill="none" stroke="#000" stroke-width="1.4"/>
<path d="M306.40,234.30 V244.30 M303.20,234.30 H309.60 M303.20,244.30 H309.60" stroke="#000" stroke-width="1.3" fill="none"/>
<path d="M306.44,225.80 V236.80 M303.24,225.80 H309.64 M303.24,236.80 H309.64" stroke="#000" stroke-width="1.3" fill="none"/>
<path d="M306.61,229.30 V241.30 M303.41,229.30 H309.81 M303.41,241.30 H309.81" stroke="#000" stroke-width="1.3" fill="none"/>
<path d="M307.43,233.30 V249.30 M304.23,233.30 H310.63 M304.23,249.30 H310.63" stroke="#000" stroke-width="1.3" fill="none"/>
<path d="M311.57,250.70 V272.70 M308.37,250.70 H314.77 M308.37,272.70 H314.77" stroke="#000" stroke-width="1.3" fill="none"/>
<path d="M332.27,282.00 V294.00 M329.07,282.00 H335.47 M329.07,294.00 H335.47" stroke="#000" stroke-width="1.3" fill="none"/>
<path d="M435.75,307.30 V319.30 M432.55,307.30 H438.95 M432.55,319.30 H438.95" stroke="#000" stroke-width="1.3" fill="none"/>
<path d="M306.40,236.30 V242.30 M303.20,236.30 H309.60 M303.20,242.30 H309.60" stroke="#000" stroke-width="1.3" fill="none"/>
<path d="M306.44,235.30 V245.30 M303.24,235.30 H309.64 M303.24,245.30 H309.64" stroke="#000" stroke-width="1.3" fill="none"/>
<path d="M306.61,243.30 V263.30 M303.41,243.30 H309.81 M303.41,263.30 H309.81" stroke="#000" stroke-width="1.3" fill="none"/>
<path d="M307.43,264.30 V280.30 M304.23,264.30 H310.63 M304.23,280.30 H310.63" stroke="#000" stroke-width="1.3" fill="none"/>
<path d="M311.57,290.30 V302.30 M308.37,290.30 H314.77 M308.37,302.30 H314.77" stroke="#000" stroke-width="1.3" fill="none"/>
<path d="M332.27,328.80 V333.80 M329.07,328.80 H335.47 M329.07,333.80 H335.47" stroke="#000" stroke-width="1.3" fill="none"/>
<path d="M435.75,336.80 V338.80 M432.55,336.80 H438.95 M432.55,338.80 H438.95" stroke="#000" stroke-width="1.3" fill="none"/>
<polygon points="306.40,236.18 309.52,239.30 306.40,242.42 303.28,239.30" fill="#000"/>
<polygon points="306.44,228.18 309.56,231.30 306.44,234.42 303.32,231.30" fill="#000"/>
<polygon points="306.61,232.18 309.73,235.30 306.61,238.42 303.49,235.30" fill="#000"/>
<polygon points="307.43,238.18 310.55,241.30 307.43,244.42 304.31,241.30" fill="#000"/>
<polygon points="311.57,258.58 314.69,261.70 311.57,264.82 308.45,261.70" fill="#000"/>
<polygon points="332.27,284.88 335.39,288.00 332.27,291.12 329.15,288.00" fill="#000"/>
<polygon points="435.75,310.18 438.87,313.30 435.75,316.42 432.63,313.30" fill="#000"/>
<rect x="304.01" y="236.91" width="4.78" height="4.78" fill="#000"/>
<rect x="304.05" y="237.91" width="4.78" height="4.78" fill="#000"/>
<rect x="304.21" y="250.91" width="4.78" height="4.78" fill="#000"/>
<rect x="305.04" y="269.91" width="4.78" height="4.78" fill="#000"/>
<rect x="309.18" y="293.91" width="4.78" height="4.78" fill="#000"/>
<rect x="329.88" y="328.91" width="4.78" height="4.78" fill="#000"/>
<rect x="433.36" y="335.41" width="4.78" height="4.78" fill="#000"/>
<path d="M390,226.2 H412.6" stroke="#000" stroke-width="1.4"/>
<polygon points="401.30,223.08 404.42,226.20 401.30,229.32 398.18,226.20" fill="#000"/>
<text x="415.7" y="229.70" font-family='"Liberation Serif", "DejaVu Serif", serif' font-weight="bold" font-size="10.5px" stroke="#000" stroke-width="0.42">WI38</text>
<path d="M390,244.2 H412.6" stroke="#000" stroke-width="1.4"/>
<rect x="398.91" y="241.81" width="4.78" height="4.78" fill="#000"/>
<text x="415.7" y="247.70" font-family='"Liberation Serif", "DejaVu Serif", serif' font-weight="bold" font-size="10.5px" stroke="#000" stroke-width="0.42">2RA</text>
</g>
</svg>
</body></html>
